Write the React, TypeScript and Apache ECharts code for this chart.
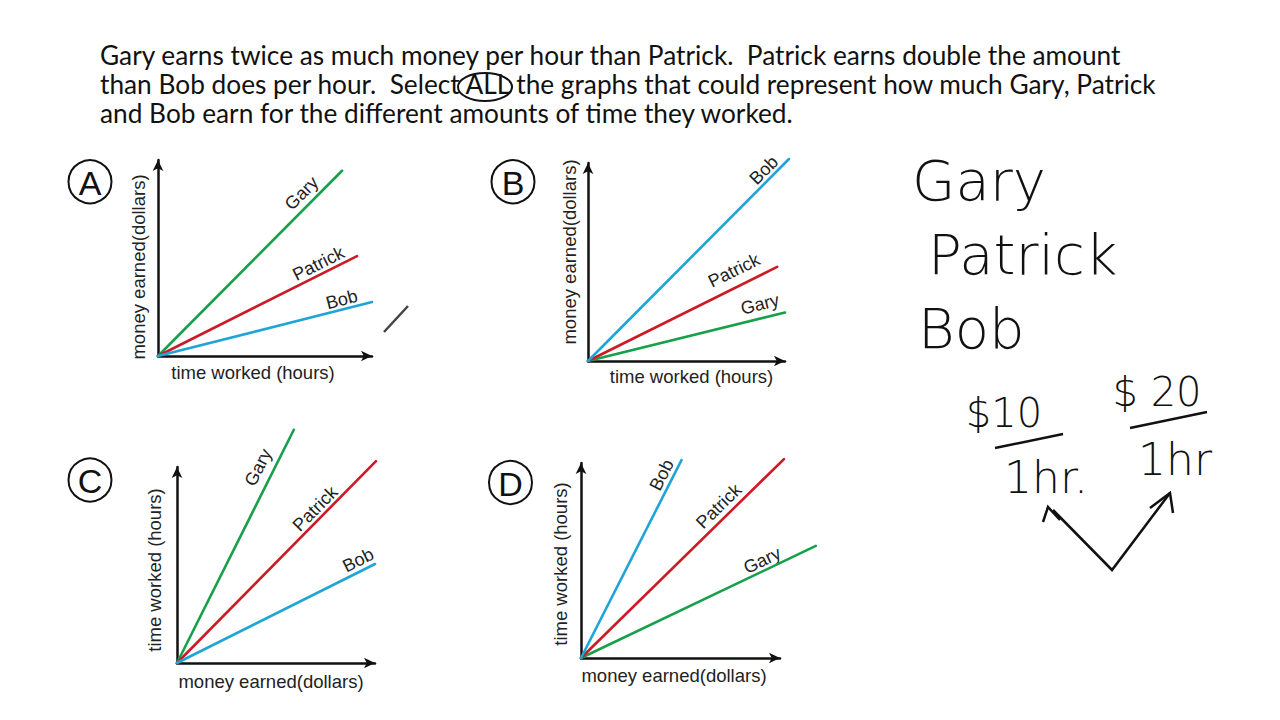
import React, { useEffect, useRef } from "react";
import * as echarts from "echarts";

// ---------- data ----------
const panelLetters = ["A", "B", "C", "D"];
const people = ["Gary", "Patrick", "Bob"];
// end point of each person's line in each panel (axes run 0–10, lines start at origin)
const garyEnds = [[8.6, 9.45], [10.0, 2.45], [5.9, 11.9], [11.8, 5.75]];
const patrickEnds = [[9.3, 5.1], [9.6, 4.75], [10.05, 10.3], [10.2, 10.2]];
const bobEnds = [[10.0, 2.75], [10.2, 10.2], [10.0, 5.05], [5.05, 10.15]];
const xNames = ["time worked (hours)", "time worked (hours)", "money earned(dollars)", "money earned(dollars)"];
const yNames = ["money earned(dollars)", "money earned(dollars)", "time worked (hours)", "time worked (hours)"];
const questionLines = [
  "Gary earns twice as much money per hour than Patrick.  Patrick earns double the amount",
  "than Bob does per hour.  Select ALL the graphs that could represent how much Gary, Patrick",
  "and Bob earn for the different amounts of time they worked.",
];
const noteNames = ["Gary", "Patrick", "Bob"];
const noteRates = ["$10", "$ 20"];
const notePer = ["1hr.", "1hr"];

// ---------- styling / layout ----------
const ends: Record<string, number[][]> = { Gary: garyEnds, Patrick: patrickEnds, Bob: bobEnds };
const colors: Record<string, string> = { Gary: "#17a04b", Patrick: "#cc1b25", Bob: "#1ea5d8" };
const gridRects = [
  { left: 158, top: 160, width: 214, height: 196 },
  { left: 588, top: 163, width: 197, height: 198 },
  { left: 177, top: 467, width: 198, height: 196 },
  { left: 581, top: 463, width: 199, height: 195 },
];
const xGap = [7, 6, 9, 8];
const yGap = [10, 9, 13, 11];
const xPad = [[0, 24, 0, 0], [0, 0, 0, 10], [0, 10, 0, 0], [0, 13, 0, 0]];
const yPad = [[0, 18, 0, 0], [0, 0, 0, 20], [0, 10, 0, 0], [0, 7, 0, 0]];
// [fraction along line, offset above line] for each label
const labelPlace: Record<string, number[][]> = {
  Gary: [[0.83, 13], [0.89, 14], [0.81, 15], [0.79, 10]],
  Patrick: [[0.83, 10.5], [0.81, 16], [0.73, 10], [0.72, 12]],
  Bob: [[0.87, 10], [0.91, 10], [0.94, 11], [0.9, 11]],
};
const circleCenters = [[90, 181.7], [513, 181.7], [90, 480], [510.5, 482.5]];
const FONT = "Liberation Sans, Arial, sans-serif";

export default function App() {
  const ref = useRef<HTMLDivElement>(null);
  useEffect(() => {
    const chart = echarts.init(ref.current as HTMLDivElement, null, { renderer: "svg" });
    const axisLine = { onZero: false, symbol: ["none", "arrow"], symbolSize: [8, 11], lineStyle: { color: "#111", width: 2.5 } };
    const xAxis = panelLetters.map((_, i) => ({
      type: "value", gridIndex: i, min: 0, max: 10, axisLine,
      axisTick: { show: false }, axisLabel: { show: false }, splitLine: { show: false },
      name: xNames[i], nameLocation: "middle", nameGap: xGap[i],
      nameTextStyle: { fontFamily: FONT, fontSize: 18.5, color: "#222", padding: xPad[i] },
    }));
    const yAxis = panelLetters.map((_, i) => ({
      type: "value", gridIndex: i, min: 0, max: 10, axisLine,
      axisTick: { show: false }, axisLabel: { show: false }, splitLine: { show: false },
      name: yNames[i], nameLocation: "middle", nameGap: yGap[i], nameRotate: 90,
      nameTextStyle: { fontFamily: FONT, fontSize: 18.5, color: "#222", padding: yPad[i] },
    }));
    const series: any[] = [];
    panelLetters.forEach((_, i) =>
      people.forEach((p) =>
        series.push({
          type: "custom", name: p, coordinateSystem: "cartesian2d", xAxisIndex: i, yAxisIndex: i,
          clip: false, silent: true,
          data: [ends[p][i]],
          renderItem: (_params: any, api: any) => {
            const o = api.coord([0, 0]);
            const e = api.coord([api.value(0), api.value(1)]);
            return {
              type: "line",
              shape: { x1: o[0], y1: o[1], x2: e[0], y2: e[1] },
              style: { stroke: colors[p], lineWidth: 2.6, lineCap: "round" },
            };
          },
        })
      )
    );
    chart.setOption({
      animation: false,
      backgroundColor: "#fff",
      grid: gridRects,
      xAxis, yAxis, series,
    });

    // fit question text
    let qSize = 25;
    try {
      const ctx = document.createElement("canvas").getContext("2d")!;
      ctx.font = `25px Lato`;
      const w = ctx.measureText(questionLines[0]).width;
      if (w > 0) qSize = (25 * 1023) / w;
    } catch (e) {}

    const graphic: any[] = [];
    questionLines.forEach((t, k) =>
      graphic.push({
        type: "text", x: 100, y: 54.5 + k * 29.3,
        style: { text: t, fontFamily: "Lato", fontSize: qSize, fill: "#111", verticalAlign: "middle", align: "left" },
      })
    );
    graphic.push({ type: "ellipse", shape: { cx: 485, cy: 87, rx: 27, ry: 14 }, style: { fill: "none", stroke: "#111", lineWidth: 2 } });

    panelLetters.forEach((L, i) => {
      graphic.push({ type: "circle", shape: { cx: circleCenters[i][0], cy: circleCenters[i][1], r: 21.5 }, style: { fill: "none", stroke: "#111", lineWidth: 2 } });
      graphic.push({
        type: "text", x: circleCenters[i][0], y: circleCenters[i][1] + 1,
        style: { text: L, fontFamily: FONT, fontSize: 34, fill: "#111", align: "center", verticalAlign: "middle" },
      });
      people.forEach((p) => {
        const a = chart.convertToPixel({ gridIndex: i } as any, [0, 0]) as number[];
        const b = chart.convertToPixel({ gridIndex: i } as any, ends[p][i]) as number[];
        const dx = b[0] - a[0], dy = b[1] - a[1];
        const len = Math.hypot(dx, dy);
        const ux = dx / len, uy = dy / len;
        const [t, d] = labelPlace[p][i];
        const cx = a[0] + dx * t + uy * d;
        const cy = a[1] + dy * t - ux * d;
        graphic.push({
          type: "text", x: cx, y: cy, rotation: Math.atan2(-dy, dx),
          style: { text: p, fontFamily: FONT, fontSize: 18, fill: "#222", align: "center", verticalAlign: "middle" },
        });
      });
    });

    // pen cursor
    graphic.push({ type: "line", shape: { x1: 384, y1: 332, x2: 408, y2: 306 }, style: { stroke: "#444", lineWidth: 2.5 } });

    // handwritten notes
    const hand = { fontFamily: "DejaVu Sans, sans-serif", fill: "#111", fontWeight: 300 as any };
    const nameY = [180, 254, 328];
    const nameX = [912, 928, 918];
    noteNames.forEach((n, k) =>
      graphic.push({ type: "text", x: nameX[k], y: nameY[k], style: { ...hand, text: n, fontSize: 56, align: "left", verticalAlign: "middle" } })
    );
    const rateX = [1004, 1157], rateY = [413, 392];
    const perX = [1046, 1175], perY = [477, 459];
    noteRates.forEach((r, k) =>
      graphic.push({ type: "text", x: rateX[k], y: rateY[k], style: { ...hand, text: r, fontSize: 40, align: "center", verticalAlign: "middle" } })
    );
    notePer.forEach((r, k) =>
      graphic.push({ type: "text", x: perX[k], y: perY[k], style: { ...hand, text: r, fontSize: 44, align: "center", verticalAlign: "middle" } })
    );
    graphic.push({ type: "line", shape: { x1: 995, y1: 448, x2: 1063, y2: 434 }, style: { stroke: "#111", lineWidth: 2.5 } });
    graphic.push({ type: "line", shape: { x1: 1130, y1: 428, x2: 1207, y2: 412 }, style: { stroke: "#111", lineWidth: 2.5 } });
    graphic.push({ type: "polyline", shape: { points: [[1053, 510], [1112, 570], [1170, 493]] }, style: { fill: "none", stroke: "#111", lineWidth: 2.5 } });
    graphic.push({ type: "polyline", shape: { points: [[1150, 508], [1170, 493], [1173, 513]] }, style: { fill: "none", stroke: "#111", lineWidth: 2.5 } });
    graphic.push({ type: "polyline", shape: { points: [[1043, 522], [1048, 507], [1060, 520]] }, style: { fill: "none", stroke: "#111", lineWidth: 2.5 } });

    chart.setOption({ graphic });
    return () => chart.dispose();
  }, []);
  return <div ref={ref} style={{ position: "absolute", left: 0, top: 0, width: 1280, height: 720, background: "#fff" }} />;
}
